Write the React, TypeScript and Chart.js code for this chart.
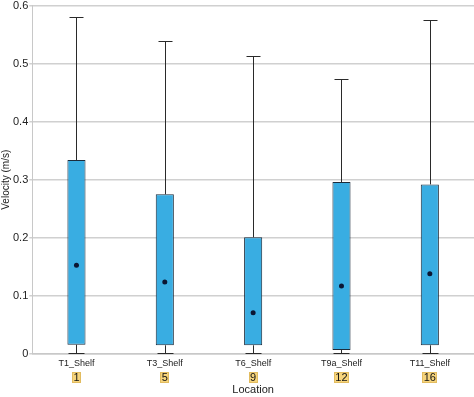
import { useEffect, useRef } from 'react';
import { Chart, registerables } from 'chart.js';
Chart.register(...registerables);

const locations = ['T1_Shelf', 'T3_Shelf', 'T6_Shelf', 'T9a_Shelf', 'T11_Shelf'];
const stationIds = ['1', '5', '9', '12', '16'];
const whiskerLow = [0.001, 0.001, 0.001, 0.001, 0.001];
const q1 = [0.016, 0.015, 0.015, 0.007, 0.015];
const q3 = [0.334, 0.275, 0.201, 0.296, 0.292];
const whiskerHigh = [0.581, 0.539, 0.513, 0.473, 0.575];
const means = [0.153, 0.124, 0.071, 0.117, 0.138];

const FONT = "'Liberation Sans', Arial, sans-serif";

const whiskerPlugin = {
  id: 'whiskers',
  beforeDatasetsDraw(chart: any) {
    const { ctx } = chart;
    const x = chart.scales.x;
    const y = chart.scales.y;
    ctx.save();
    ctx.strokeStyle = '#2a2a2a';
    ctx.lineWidth = 1;
    locations.forEach((_, i) => {
      const cx = Math.round(x.getPixelForValue(i)) + 0.5;
      const yHi = Math.round(y.getPixelForValue(whiskerHigh[i])) + 0.5;
      const yQ3 = y.getPixelForValue(q3[i]);
      const yLo = Math.round(y.getPixelForValue(whiskerLow[i])) + 0.5;
      const yQ1 = y.getPixelForValue(q1[i]);
      ctx.beginPath();
      ctx.moveTo(cx, yQ3);
      ctx.lineTo(cx, yHi);
      ctx.moveTo(cx - 7, yHi);
      ctx.lineTo(cx + 7, yHi);
      ctx.moveTo(cx, yQ1);
      ctx.lineTo(cx, yLo);
      ctx.moveTo(cx - 8, yLo);
      ctx.lineTo(cx + 8, yLo);
      ctx.stroke();
    });
    ctx.restore();
  },
  afterDraw(chart: any) {
    const { ctx } = chart;
    const x = chart.scales.x;
    ctx.save();
    ctx.font = `11px ${FONT}`;
    ctx.textAlign = 'center';
    ctx.textBaseline = 'middle';
    const top = x.top + 18;
    stationIds.forEach((id, i) => {
      const cx = x.getPixelForValue(i);
      const w = Math.round(ctx.measureText(id).width + 3);
      const h = 11;
      const left = Math.round(cx - w / 2);
      ctx.fillStyle = '#f6d47c';
      ctx.fillRect(left, top, w, h);
      ctx.strokeStyle = '#e2bc60';
      ctx.lineWidth = 1;
      ctx.strokeRect(left + 0.5, top + 0.5, w - 1, h - 1);
      ctx.fillStyle = '#111';
      ctx.fillText(id, cx, top + h / 2 + 0.5);
    });
    ctx.restore();
  },
};

export default function App() {
  const ref = useRef<HTMLCanvasElement>(null);
  useEffect(() => {
    document.body.style.margin = '0';
    const chart = new Chart(ref.current!, {
      type: 'bar',
      data: {
        labels: locations,
        datasets: [
          {
            type: 'bar',
            order: 1,
            data: q1.map((v, i) => [v, q3[i]]) as any,
            backgroundColor: '#39ade2',
            borderColor: '#1c2c3c',
            borderWidth: 1,
            borderSkipped: false,
            barPercentage: 0.205,
            categoryPercentage: 1,
          },
          {
            type: 'line',
            order: 0,
            data: means,
            showLine: false,
            pointRadius: 2.5,
            pointBackgroundColor: '#0b1633',
            pointBorderColor: '#0b1633',
            pointBorderWidth: 0,
          } as any,
        ],
      },
      options: {
        animation: false,
        responsive: false,
        layout: { padding: 0, autoPadding: false },
        plugins: { legend: { display: false }, tooltip: { enabled: false } },
        scales: {
          x: {
            grid: { display: false, drawTicks: false },
            border: { color: '#c8c8c8', width: 1.5 },
            ticks: { color: '#222', font: { family: FONT, size: 9 }, padding: 4 },
            title: {
              display: true,
              text: 'Location',
              color: '#222',
              font: { family: FONT, size: 11 },
              padding: { top: 11, bottom: 0 },
            },
            afterFit: (s: any) => {
              s.paddingLeft = 0;
              s.paddingRight = 0;
            },
          },
          y: {
            min: 0,
            max: 0.6,
            grid: { color: '#d0d0d0', lineWidth: 1.5, drawTicks: true, tickLength: 3 },
            border: { color: '#c8c8c8', width: 1 },
            ticks: {
              stepSize: 0.1,
              color: '#222',
              font: { family: FONT, size: 11 },
              padding: 1,
              callback: (v: any) => (Math.round(v * 10) / 10).toString(),
            },
            title: {
              display: true,
              text: 'Velocity (m/s)',
              color: '#222',
              font: { family: FONT, size: 10 },
              padding: { top: 0, bottom: 0 },
            },
            afterFit: (s: any) => {
              s.paddingTop = 5.5;
              s.paddingBottom = 0;
            },
          },
        },
      },
      plugins: [whiskerPlugin],
    });
    return () => chart.destroy();
  }, []);
  return (
    <div style={{ width: 474, height: 397 }}>
      <canvas ref={ref} width={474} height={397} style={{ display: 'block' }} />
    </div>
  );
}
